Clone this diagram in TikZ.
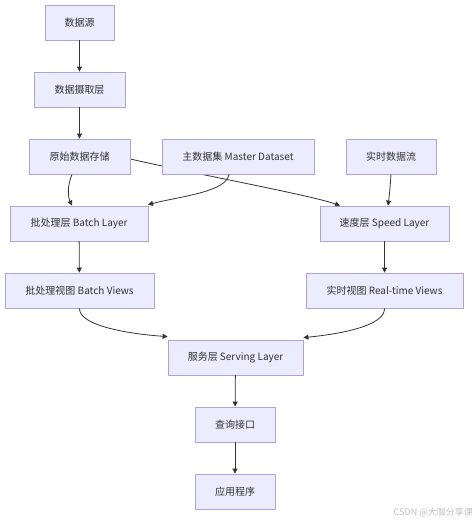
\documentclass[tikz,border=0pt]{standalone}
\usepackage{fontspec}
\setmainfont{Noto Sans CJK SC}
\usetikzlibrary{arrows.meta,backgrounds}
\definecolor{boxfill}{HTML}{ECECFF}
\definecolor{boxline}{HTML}{B2A0E4}
\definecolor{ink}{HTML}{333333}
\begin{document}
\begin{tikzpicture}[x=1pt,y=-1pt,
  box/.style={draw=boxline,fill=boxfill,line width=0.8pt,inner sep=0pt,minimum height=35pt,text=ink,font=\fontsize{10}{12}\selectfont},
  link/.style={draw=ink,line width=0.8pt,-{Triangle[length=5pt,width=5pt]}}]
\useasboundingbox (0,0) rectangle (474,520);
\node[box,minimum width=69pt] (src) at (79.5,22.5) {数据源};
\node[box,minimum width=91pt] (ing) at (79.5,89.5) {数据摄取层};
\node[box,minimum width=101pt] (raw) at (79.5,156.5) {原始数据存储};
\node[box,minimum width=152pt] (mst) at (238,156.5) {主数据集 Master Dataset};
\node[box,minimum width=90pt] (rts) at (391,156.5) {实时数据流};
\node[box,minimum width=138pt] (bat) at (79,223.5) {批处理层 Batch Layer};
\node[box,minimum width=129pt] (spd) at (384.5,223.5) {速度层 Speed Layer};
\node[box,minimum width=149pt] (bv) at (79.5,290.5) {批处理视图 Batch Views};
\node[box,minimum width=157pt] (rv) at (384.5,290.5) {实时视图 Real-time Views};
\node[box,minimum width=135pt] (srv) at (235.5,357.5) {服务层 Serving Layer};
\node[box,minimum width=80pt] (qry) at (235,424.5) {查询接口};
\node[box,minimum width=80pt] (app) at (235,491.5) {应用程序};
\node[anchor=east,text=black!25,font=\fontsize{9}{10}\selectfont,inner sep=0pt] (wm) at (473,512) {CSDN @大咖分享课};
\begin{scope}[on background layer]
\fill[white] (0,0) rectangle (474,520);
\path[link] ([yshift=-2.5pt]raw.east) .. controls (200,175) and (310,195) .. ([xshift=-44.5pt]spd.north);
\end{scope}
\path[link] (src) -- (ing);
\path[link] (ing) -- (raw);
\path[link] ([xshift=-7.5pt]raw.south) .. controls (67,186) and (68,197) .. ([xshift=-7pt]bat.north);
\path[link] ([xshift=-9pt]mst.south) .. controls (226,192) and (182,196) .. ([xshift=69pt,yshift=1pt]bat.north);
\path[link] (rts.south) .. controls (390,190) and (389,198) .. ([xshift=3.5pt]spd.north);
\path[link] (bat) -- (bv);
\path[link] (spd) -- (rv);
\path[link] (bv.south) .. controls (79,326) and (130,334) .. ([yshift=3pt]srv.north west);
\path[link] (rv.south) .. controls (385,326) and (340,334) .. ([yshift=2pt]srv.north east);
\path[link] (srv) -- (qry);
\path[link] (qry) -- (app);
\end{tikzpicture}
\end{document}
